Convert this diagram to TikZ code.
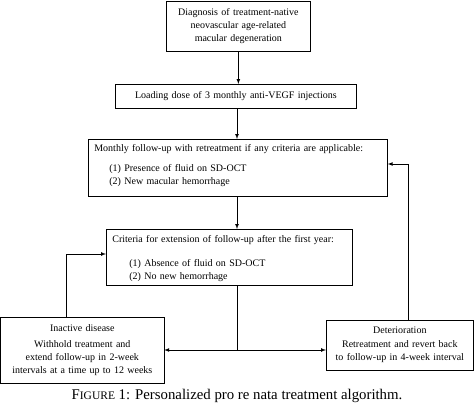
\documentclass[tikz,border=0pt]{standalone}
\usepackage{fontspec}
\setmainfont{Liberation Serif}
\usetikzlibrary{arrows}

\begin{document}
\begin{tikzpicture}[x=1pt, y=1pt, >=latex, line width=0.7pt,
  box/.style={draw, anchor=north west, inner xsep=6pt, inner ysep=3pt,
    font=\fontsize{10}{13}\selectfont}]
  \useasboundingbox (0,0) rectangle (474,404);
  % boxes
  \node[box, text width=132pt, align=center, text height=11pt, text depth=33pt] (diag) at (166,403)
    {Diagnosis of treatment-native\\ neovascular age-related\\ macular degeneration};
  \node[box, text width=229pt, align=center, text height=11pt, text depth=7pt] (load) at (115,320)
    {Loading dose of 3 monthly anti-VEGF injections};
  \node[box, text width=287pt, align=left, text height=9.5pt, text depth=41.5pt] (monthly) at (88,265)
    {Monthly follow-up with retreatment if any criteria are applicable:\\[7pt]
     \hspace*{15pt}(1) Presence of fluid on SD-OCT\\
     \hspace*{15pt}(2) New macular hemorrhage};
  \node[box, text width=234pt, align=left, text height=10pt, text depth=40pt] (criteria) at (106,175)
    {Criteria for extension of follow-up after the first year:\\[11pt]
     \hspace*{17pt}(1) Absence of fluid on SD-OCT\\
     \hspace*{17pt}(2) No new hemorrhage};
  \node[box, text width=151pt, align=center, text height=11pt, text depth=49pt] (inactive) at (0.5,87)
    {Inactive disease\\[3pt] Withhold treatment and\\ extend follow-up in 2-week\\ intervals at a time up to 12 weeks};
  \node[box, text width=135pt, align=center, text height=10pt, text depth=34pt] (deterior) at (326,84)
    {Deterioration\\[1pt] Retreatment and revert back\\ to follow-up in 4-week interval};
  % caption
  \node[anchor=base, font=\fontsize{14.8}{17}\selectfont] (caption) at (237,4)
    {F{\fontsize{11.5}{13}\selectfont IGURE} 1: Personalized pro re nata treatment algorithm.};
  % connectors
  \coordinate (split) at (237,54);
  \coordinate (leftloop) at (66,150);
  \coordinate (rightloop) at (408,240);
  \path[->]
  (diag.south) edge (diag.south |- load.north)
  (load.south -| split) edge (monthly.north -| split)
  (monthly.south -| split) edge (criteria.north -| split)
  ;
  \draw (criteria.south -| split) -- (split);
  \draw[<->] (inactive.east |- split) -- (deterior.west |- split);
  \draw[->] (inactive.north -| leftloop) |- (criteria.west |- leftloop);
  \draw[->] (deterior.north -| rightloop) |- (monthly.east |- rightloop);
\end{tikzpicture}
\end{document}
